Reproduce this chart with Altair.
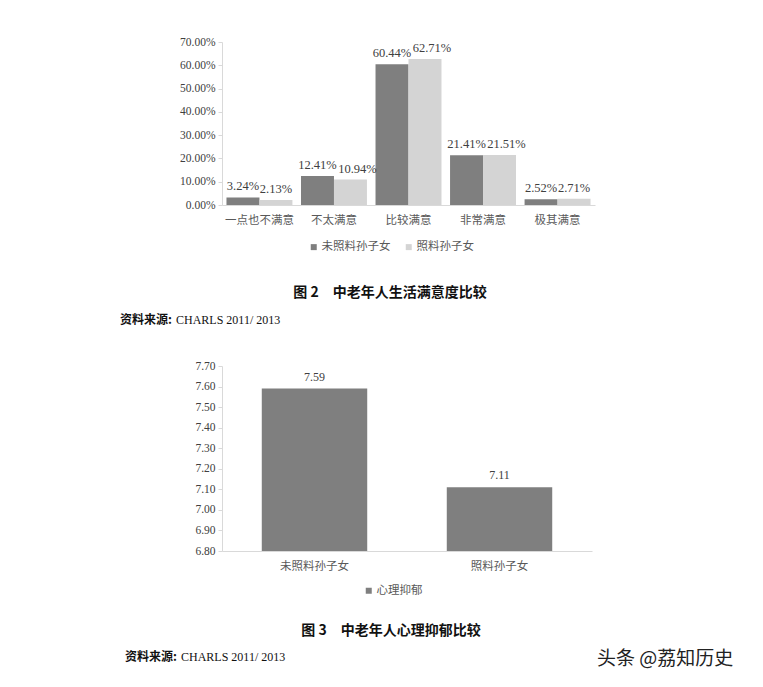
import altair as alt
import pandas as pd

# ---- data: figure 2 ----
categories = ["一点也不满意", "不太满意", "比较满意", "非常满意", "极其满意"]
series = ["未照料孙子女", "照料孙子女"]
not_caring = [3.24, 12.41, 60.44, 21.41, 2.52]
caring = [2.13, 10.94, 62.71, 21.51, 2.71]
y1_ticks = [0.0, 0.1, 0.2, 0.3, 0.4, 0.5, 0.6, 0.7]

# ---- data: figure 3 ----
groups = ["未照料孙子女", "照料孙子女"]
depression = [7.59, 7.11]
series2 = ["心理抑郁"]
y2_ticks = [6.8, 6.9, 7.0, 7.1, 7.2, 7.3, 7.4, 7.5, 7.6, 7.7]

caption1 = "图 2\u3000中老年人生活满意度比较"
caption2 = "图 3\u3000中老年人心理抑郁比较"
source_label = "资料来源:"
source_text = "CHARLS 2011/ 2013"
watermark = "头条 @荔知历史"

SERIF = "Liberation Serif"
CJK = "Noto Sans CJK SC"
DARK = "#7f7f7f"
LIGHT = "#d4d4d4"
AXISC = "#d9d9d9"

rows = []
for i, c in enumerate(categories):
    rows.append({"cat": c, "series": series[0], "v": not_caring[i] / 100})
    rows.append({"cat": c, "series": series[1], "v": caring[i] / 100})
df1 = pd.DataFrame(rows)

W1, H1 = 373, 163
base1 = alt.Chart(df1).encode(
    x=alt.X("cat:N", sort=categories,
            scale=alt.Scale(paddingInner=0.115, paddingOuter=0.06),
            axis=alt.Axis(title=None, labelAngle=0, domainColor=AXISC, ticks=False,
                          labelFont=CJK, labelFontSize=11.5, labelColor="#595959",
                          labelPadding=9)),
    xOffset=alt.XOffset("series:N", sort=series, scale=alt.Scale(paddingInner=0)),
    y=alt.Y("v:Q", scale=alt.Scale(domain=[0, 0.7]),
            axis=alt.Axis(title=None, values=y1_ticks, format=".2%", grid=False,
                          domainColor=AXISC, tickColor=AXISC, tickSize=4,
                          labelFont=SERIF, labelFontSize=11.5, labelColor="#404040",
                          labelPadding=3)),
)
bars1 = base1.mark_bar().encode(
    color=alt.Color("series:N", sort=series,
                    scale=alt.Scale(domain=series, range=[DARK, LIGHT]),
                    legend=alt.Legend(title=None, orient="none", direction="horizontal",
                                      legendX=86, legendY=199, symbolType="square",
                                      symbolSize=36, symbolStrokeWidth=0,
                                      labelFont=CJK, labelFontSize=11.5,
                                      labelColor="#595959", columnPadding=12,
                                      symbolOffset=0, labelOffset=2))
)
txt_kw = dict(baseline="middle", dy=-11, font=SERIF, fontSize=12.5, color="#404040")
lab_text = alt.Text("v:Q", format=".2%")
# first series labels centred on bars; wide second-series labels nudged right
labels1a = base1.mark_text(**txt_kw).encode(text=lab_text).transform_filter(
    alt.datum.series == series[0])
labels1b = base1.mark_text(**txt_kw).encode(text=lab_text).transform_filter(
    (alt.datum.series == series[1]) & (alt.datum.v < 0.1))
labels1c = base1.mark_text(dx=7, **txt_kw).encode(text=lab_text).transform_filter(
    (alt.datum.series == series[1]) & (alt.datum.v >= 0.1))

def note(txt, x, y, **kw):
    return alt.Chart(pd.DataFrame({"t": [txt]})).mark_text(**kw).encode(
        x=alt.value(x), y=alt.value(y), text="t:N")

cap1 = note(caption1, 168, 251, font=CJK, fontSize=14, fontWeight="bold",
            color="#111111", align="center", baseline="middle")
src1a = note(source_label, -102, 278, font=CJK, fontSize=12, fontWeight="bold",
             color="#111111", align="left", baseline="middle")
src1b = note(source_text, -46, 278, font=SERIF, fontSize=12,
             color="#111111", align="left", baseline="middle")

chart1 = alt.layer(bars1, labels1a, labels1b, labels1c, cap1, src1a, src1b).properties(
    width=W1, height=H1)

# ---- figure 3 ----
df2 = pd.DataFrame({"g": groups, "v": depression, "s": series2 * len(groups)})
W2, H2 = 370, 185
base2 = alt.Chart(df2).encode(
    x=alt.X("g:N", sort=groups,
            scale=alt.Scale(paddingInner=0.43, paddingOuter=0.215),
            axis=alt.Axis(title=None, labelAngle=0, domainColor=AXISC, ticks=False,
                          labelFont=CJK, labelFontSize=11.5, labelColor="#595959",
                          labelPadding=9)),
    y=alt.Y("v:Q", scale=alt.Scale(domain=[6.8, 7.7], zero=False, nice=False, clamp=True),
            axis=alt.Axis(title=None, values=y2_ticks, format=".2f", grid=False,
                          domainColor=AXISC, tickColor=AXISC, tickSize=4,
                          labelFont=SERIF, labelFontSize=11.5, labelColor="#404040",
                          labelPadding=3)),
)
bars2 = base2.mark_bar(clip=True).encode(
    color=alt.Color("s:N", scale=alt.Scale(domain=series2, range=[DARK]),
                    legend=alt.Legend(title=None, orient="none", direction="horizontal",
                                      legendX=141, legendY=219, symbolType="square",
                                      symbolSize=36, symbolStrokeWidth=0,
                                      labelFont=CJK, labelFontSize=11.5,
                                      labelColor="#595959", labelOffset=2))
)
labels2 = base2.mark_text(baseline="middle", dy=-12, font=SERIF, fontSize=12,
                          color="#404040").encode(text=alt.Text("v:Q", format=".2f"))

cap2 = note(caption2, 169, 265, font=CJK, fontSize=14, fontWeight="bold",
            color="#111111", align="center", baseline="middle")
src2a = note(source_label, -97, 291, font=CJK, fontSize=12, fontWeight="bold",
             color="#111111", align="left", baseline="middle")
src2b = note(source_text, -41, 291, font=SERIF, fontSize=12,
             color="#111111", align="left", baseline="middle")
wm = note(watermark, 375, 293, font=CJK, fontSize=19, color="#222222",
          align="left", baseline="middle")

chart2 = alt.layer(bars2, labels2, cap2, src2a, src2b, wm).properties(width=W2, height=H2)

chart = alt.vconcat(chart1, chart2, spacing=34).resolve_scale(
    color="independent").resolve_legend(color="independent").properties(
    padding={"left": 112, "top": 28, "right": 5, "bottom": 5},
    background="white",
).configure_view(stroke=None)

chart.save("out.html", embed_options={"renderer": "svg", "actions": False})
